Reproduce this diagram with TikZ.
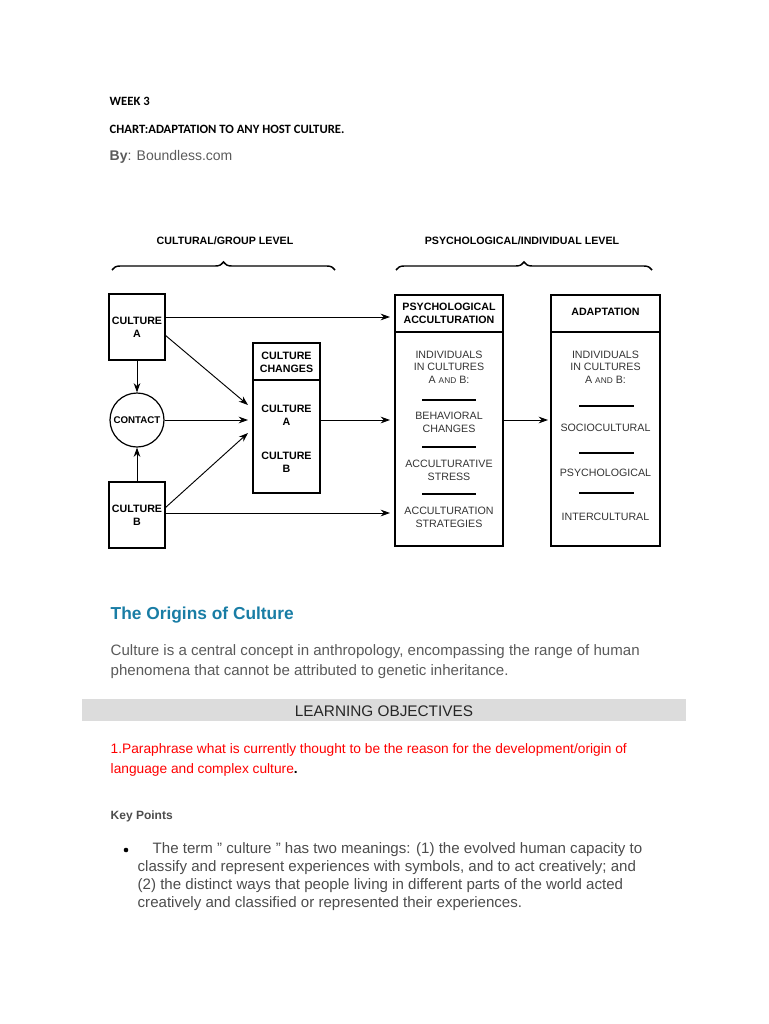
\documentclass[tikz,border=0pt]{standalone}
\usepackage{fontspec}
\setmainfont{Liberation Sans}
\newfontfamily\calfont{Carlito}
\usetikzlibrary{positioning}
\usetikzlibrary{arrows.meta,decorations.pathreplacing}
\definecolor{bodygray}{RGB}{90,90,90}
\definecolor{titleblue}{RGB}{25,125,165}
\definecolor{barfill}{RGB}{220,220,220}
\newcommand{\andsc}{\scalebox{0.78}{AND}}
\tikzset{
  box/.style={draw, line width=0.9pt},
  flow/.style={-{Stealth[length=7pt,width=5pt]}, line width=0.7pt},
  hdr/.style={font=\fontsize{8}{9.5}\selectfont\bfseries, align=center},
  item/.style={font=\fontsize{8}{9.5}\selectfont, align=center, text=black!80},
  rule/.style={line width=0.9pt},
  body/.style={font=\fontsize{11.3}{13.5}\selectfont, text=bodygray, anchor=west}
}
\begin{document}
\begin{tikzpicture}[x=0.75pt,y=-0.75pt]
\useasboundingbox (0,0) rectangle (768,1024);

% header
\node[anchor=west, font=\calfont\bfseries\fontsize{9.5}{11}\selectfont] (week) at (105,101) {WEEK 3};
\node[anchor=west, font=\calfont\bfseries\fontsize{9.5}{11}\selectfont] (chart) at (105,129) {CHART:ADAPTATION TO ANY HOST CULTURE.};
\node[anchor=west, font=\fontsize{10.5}{12}\selectfont, text=bodygray] (by) at (105,157) {\textbf{By}: Boundless.com};

% levels
\node[hdr] (grouplvl) at (225,241) {CULTURAL/GROUP LEVEL};
\node[hdr] (indivlvl) at (522,241) {PSYCHOLOGICAL/INDIVIDUAL LEVEL};
\draw[line width=1.1pt, decorate, decoration={brace, amplitude=6pt}] (112,270) -- (335,270);
\draw[line width=1.1pt, decorate, decoration={brace, amplitude=6pt}] (396,270) -- (652,270);

% culture boxes
\draw[box] (109,294) rectangle (165,360);
\node[hdr] (cultA) at (137,327) {CULTURE\\A};
\draw[box] (109,482) rectangle (165,548);
\node[hdr] (cultB) at (137,515) {CULTURE\\B};
\node[draw, circle, line width=0.9pt, minimum size=54pt*0.75, inner sep=0pt, hdr, font=\fontsize{7.3}{9}\selectfont\bfseries] (contact) at (137,420) {CONTACT};
\coordinate (aBot) at (137,360);
\coordinate (bTop) at (137,482);

% culture changes
\draw[box] (253,343) rectangle (320,493);
\draw[box] (253,380) -- (320,380);
\node[hdr] (ccHead) at (286.5,362) {CULTURE\\CHANGES};
\node[hdr] (ccA) at (286.5,415) {CULTURE\\A};
\node[hdr] (ccB) at (286.5,462) {CULTURE\\B};

% psychological acculturation
\draw[box] (395,295) rectangle (503,546);
\draw[box] (395,332) -- (503,332);
\node[hdr] (paHead) at (449,313) {PSYCHOLOGICAL\\ACCULTURATION};
\node[item] (paInd) at (449,367) {INDIVIDUALS\\IN CULTURES\\A \andsc\ B:};
\draw[rule] (422,400) -- (476,400);
\node[item] (paBeh) at (449,422) {BEHAVIORAL\\CHANGES};
\draw[rule] (422,447) -- (476,447);
\node[item] (paStr) at (449,470) {ACCULTURATIVE\\STRESS};
\draw[rule] (422,494) -- (476,494);
\node[item] (paStrat) at (449,517) {ACCULTURATION\\STRATEGIES};

% adaptation
\draw[box] (551,295) rectangle (660,546);
\draw[box] (551,332) -- (660,332);
\node[hdr] (adHead) at (605.5,312) {ADAPTATION};
\node[item] (adInd) at (605.5,367) {INDIVIDUALS\\IN CULTURES\\A \andsc\ B:};
\draw[rule] (579,406) -- (634,406);
\node[item] (adSoc) at (605.5,428) {SOCIOCULTURAL};
\draw[rule] (579,453) -- (634,453);
\node[item] (adPsy) at (605.5,473) {PSYCHOLOGICAL};
\draw[rule] (579,493) -- (634,493);
\node[item] (adInt) at (605.5,517) {INTERCULTURAL};

% arrows
\draw[flow] (165,317) -- (390,317);
\draw[flow] (165,513) -- (390,513);
\draw[flow] (aBot) -- (contact);
\draw[flow] (bTop) -- (contact);
\draw[flow] (contact) -- (248,420);
\draw[flow] (165,335) -- (248,405);
\draw[flow] (165,508) -- (248,433);
\draw[flow] (320,420) -- (390,420);
\draw[flow] (503,420) -- (548,420);

% text below
\node[anchor=west, font=\bfseries\fontsize{13}{15}\selectfont, text=titleblue] (origins) at (106,615) {The Origins of Culture};
\node[body] (p1) at (106,652) {Culture is a central concept in anthropology, encompassing the range of human};
\node[body] (p2) at (106,672) {phenomena that cannot be attributed to genetic inheritance.};
\fill[barfill] (82,699) rectangle (686,721);
\node[font=\fontsize{11.5}{13}\selectfont, text=black!85] (lo) at (384,711) {LEARNING OBJECTIVES};
\node[body, text=red, font=\fontsize{10.3}{12}\selectfont] (r1) at (106,750) {1.Paraphrase what is currently thought to be the reason for the development/origin of};
\node[body, text=red, font=\fontsize{10.3}{12}\selectfont] (r2) at (106,770) {language and complex culture\textcolor{black}{\textbf{.}}};
\node[anchor=west, font=\bfseries\fontsize{9}{11}\selectfont, text=black!70] (kp) at (106,816) {Key Points};
\fill (126,850) circle (2.3);
\node[body, text=black!70] (k1) at (148,850) {The term ” culture ” has two meanings: (1) the evolved human capacity to};
\node[body, text=black!70] (k2) at (133,868) {classify and represent experiences with symbols, and to act creatively; and};
\node[body, text=black!70] (k3) at (133,886) {(2) the distinct ways that people living in different parts of the world acted};
\node[body, text=black!70] (k4) at (133,904) {creatively and classified or represented their experiences.};
\end{tikzpicture}
\end{document}
